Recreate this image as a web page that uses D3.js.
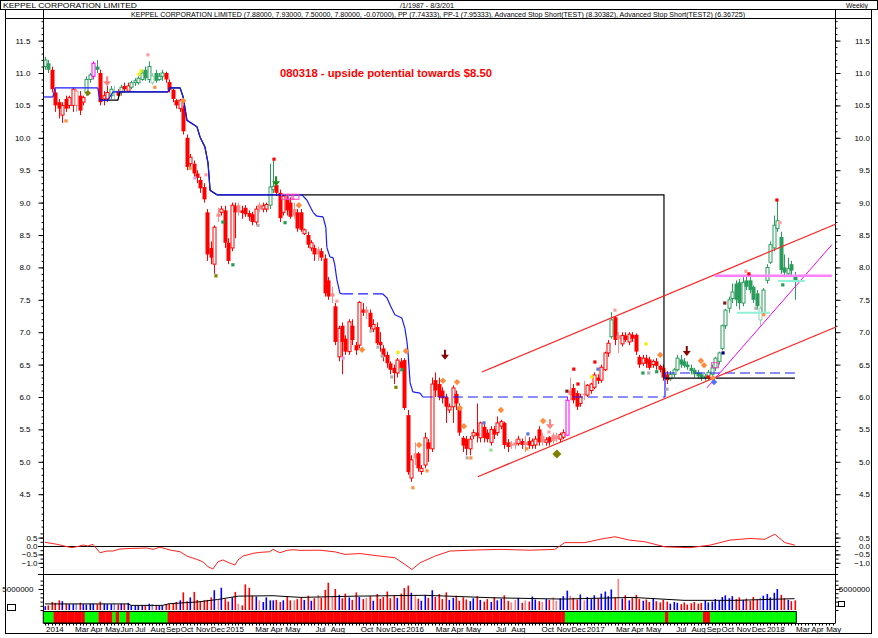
<!DOCTYPE html>
<html><head><meta charset="utf-8">
<script src="https://cdn.jsdelivr.net/npm/d3@7/dist/d3.min.js"></script>
<style>
body{margin:0;background:#fff}
svg{display:block}
text{font-family:"Liberation Sans",Arial,sans-serif;fill:#000}
</style></head>
<body><svg id="c" width="878" height="638"></svg>
<script>
// ---------------- DATA ----------------
const firstWeek = "2014-01-03";
const opens = [11.10,11.15,11.05,10.70,10.55,10.35,10.60,10.50,10.50,10.50,10.65,10.55,10.70,10.90,10.95,11.10,11.00,10.60,10.60,10.65,10.70,10.72,10.70,10.80,10.72,10.78,10.85,10.85,10.90,11.05,10.90,10.85,11.00,10.90,10.95,11.00,10.86,10.74,10.58,10.45,10.45,10.00,9.60,9.60,9.45,9.35,9.24,8.85,8.30,8.05,8.83,8.85,8.88,8.38,8.30,8.95,8.96,8.88,8.92,8.84,8.82,8.70,8.97,8.90,8.90,8.96,9.20,9.27,9.15,8.85,9.05,9.00,8.90,8.85,8.85,8.52,8.50,8.30,8.30,8.28,8.25,8.14,7.80,7.60,7.40,6.62,7.10,6.90,6.70,7.10,6.80,6.80,7.35,7.35,7.30,7.05,7.08,6.85,6.75,6.65,6.52,6.45,6.37,6.55,6.57,5.72,4.75,5.13,5.13,4.85,4.95,5.30,5.20,6.26,6.20,6.10,6.00,5.80,5.85,6.05,5.85,5.37,5.35,5.20,5.40,5.45,5.37,5.54,5.45,5.30,5.50,5.45,5.55,5.60,5.30,5.28,5.30,5.28,5.32,5.30,5.32,5.25,5.26,5.50,5.40,5.30,5.38,5.42,5.40,5.35,5.38,5.41,6.10,6.14,6.06,5.90,6.05,6.03,6.10,6.15,6.30,6.26,6.42,6.68,6.93,7.23,6.95,6.82,6.95,6.85,6.96,6.96,6.62,6.52,6.60,6.58,6.50,6.55,6.48,6.45,6.35,6.28,6.35,6.42,6.58,6.55,6.50,6.45,6.42,6.38,6.35,6.30,6.30,6.35,6.45,6.55,6.75,7.10,7.37,7.52,7.75,7.77,7.45,7.80,7.80,7.70,7.60,7.19,7.30,7.80,8.08,8.30,8.60,8.47,8.00,7.90,8.05,7.88];
const highs = [11.25,11.20,11.10,10.75,10.60,10.55,10.65,10.65,10.78,10.75,10.72,10.65,10.95,11.00,11.18,11.20,11.05,10.72,10.80,10.80,10.80,10.75,10.82,10.85,10.85,10.88,10.92,10.95,11.05,11.10,11.18,11.00,11.05,11.00,11.05,11.02,10.90,10.76,10.60,10.60,10.50,10.05,9.75,9.65,9.50,9.40,9.30,8.90,8.40,8.65,8.92,8.95,8.95,8.45,9.00,9.00,9.00,8.95,8.96,8.88,8.86,8.95,9.00,9.00,9.00,9.60,9.65,9.30,9.20,9.12,9.10,9.08,9.00,8.90,8.90,8.60,8.55,8.42,8.35,8.32,8.30,8.20,7.85,7.70,7.45,7.10,7.15,6.95,7.20,7.20,6.85,7.48,7.45,7.40,7.35,7.20,7.15,7.00,6.80,6.70,6.55,6.50,6.60,6.60,6.60,5.80,5.10,5.30,5.15,4.95,5.45,5.35,6.30,6.38,6.30,6.15,6.05,5.90,6.18,6.10,5.90,5.40,5.40,5.40,5.50,5.90,5.62,5.60,5.50,5.55,5.55,5.70,5.65,5.62,5.35,5.32,5.35,5.40,5.36,5.40,5.38,5.36,5.40,5.55,5.45,5.38,5.40,5.45,5.45,5.45,5.50,6.00,6.30,6.20,6.10,6.05,6.25,6.20,6.22,6.38,6.35,6.50,6.70,6.88,7.31,7.25,7.00,7.00,7.00,7.00,7.00,6.98,6.65,6.65,6.65,6.62,6.58,6.60,6.50,6.50,6.40,6.40,6.45,6.65,6.65,6.60,6.55,6.50,6.45,6.42,6.38,6.36,6.42,6.50,6.62,6.70,7.12,7.36,7.55,7.75,7.80,7.82,7.85,7.88,7.85,7.72,7.65,7.40,7.68,8.05,8.40,8.80,9.04,8.55,8.20,8.15,8.10,7.93];
const lows = [11.05,11.00,10.70,10.40,10.30,10.23,10.40,10.45,10.40,10.40,10.35,10.50,10.65,10.85,10.90,11.00,10.50,10.50,10.55,10.60,10.60,10.60,10.65,10.70,10.70,10.75,10.80,10.82,10.88,10.88,10.85,10.82,10.85,10.88,10.88,10.85,10.70,10.55,10.45,10.40,10.05,9.50,9.55,9.40,9.30,9.15,9.00,8.10,8.05,7.90,8.70,8.80,8.30,8.05,8.25,8.45,8.80,8.75,8.78,8.72,8.65,8.65,8.85,8.85,8.85,8.90,9.15,9.10,8.70,8.80,8.80,8.75,8.75,8.55,8.55,8.50,8.30,8.25,8.10,8.10,8.10,7.55,7.50,7.45,6.80,6.55,6.35,6.65,6.65,6.80,6.65,6.75,7.25,7.20,7.00,7.00,6.80,6.70,6.55,6.45,6.35,6.20,6.30,6.40,5.80,4.80,4.69,4.95,4.85,4.80,4.90,5.00,5.15,6.00,5.95,5.90,5.60,5.75,5.60,5.80,5.40,5.15,5.10,5.10,5.35,5.30,5.30,5.30,5.30,5.25,5.35,5.40,5.50,5.20,5.15,5.20,5.20,5.25,5.20,5.15,5.20,5.20,5.20,5.25,5.25,5.25,5.25,5.28,5.30,5.30,5.35,5.40,5.95,5.90,5.80,5.85,5.95,6.00,6.05,6.12,6.20,6.22,6.40,6.62,6.90,6.80,6.68,6.78,6.85,6.80,6.85,6.65,6.45,6.48,6.45,6.42,6.45,6.42,6.38,6.25,6.20,6.25,6.30,6.40,6.45,6.45,6.42,6.35,6.30,6.28,6.25,6.25,6.25,6.30,6.40,6.50,6.72,7.05,7.30,7.45,7.40,7.35,7.40,7.65,7.60,7.45,7.35,7.10,7.25,7.75,8.05,8.25,8.55,7.90,7.85,7.85,7.85,7.50];
const closes = [11.20,11.05,10.75,10.50,10.45,10.50,10.45,10.62,10.75,10.72,10.42,10.62,10.90,10.97,11.15,11.05,10.55,10.65,10.70,10.75,10.72,10.65,10.78,10.75,10.80,10.85,10.88,10.92,11.00,10.92,11.10,10.95,10.88,10.95,11.00,10.90,10.74,10.60,10.50,10.58,10.10,9.55,9.70,9.45,9.38,9.22,9.05,8.20,8.15,8.62,8.78,8.90,8.38,8.10,8.96,8.85,8.85,8.84,8.82,8.78,8.70,8.90,8.90,8.95,8.97,9.24,9.25,9.15,8.76,9.10,8.88,8.78,8.80,8.60,8.58,8.58,8.35,8.38,8.20,8.20,8.15,7.60,7.55,7.55,6.85,7.06,6.85,6.70,7.16,6.88,6.72,7.46,7.30,7.30,7.08,7.12,6.83,6.80,6.62,6.52,6.42,6.37,6.57,6.45,5.83,4.84,5.03,5.05,4.90,4.90,5.37,5.20,6.20,6.10,6.00,5.98,5.85,5.85,6.14,5.90,5.45,5.25,5.20,5.35,5.45,5.40,5.60,5.37,5.35,5.50,5.42,5.60,5.62,5.26,5.23,5.25,5.25,5.35,5.26,5.26,5.25,5.32,5.35,5.30,5.30,5.34,5.30,5.32,5.35,5.42,5.45,5.95,6.03,5.95,5.85,6.00,6.03,6.18,6.20,6.34,6.25,6.46,6.68,6.83,7.19,6.88,6.90,6.95,6.88,6.97,6.90,6.70,6.50,6.60,6.52,6.45,6.55,6.48,6.42,6.30,6.26,6.35,6.42,6.60,6.50,6.48,6.46,6.40,6.35,6.32,6.30,6.32,6.38,6.45,6.60,6.68,7.10,7.34,7.50,7.62,7.50,7.45,7.77,7.70,7.65,7.50,7.40,7.37,7.65,8.00,8.35,8.65,8.72,7.96,7.92,7.98,7.95,7.80];
// weekly volume, millions of shares
const volumes = [0.9,1.1,1.9,1.7,2.3,2.1,1.5,1.4,1.4,1.5,1.7,1.4,1.3,1.5,1.5,1.4,2.0,1.5,1.4,1.4,1.5,1.3,1.5,1.4,1.7,1.1,1.0,1.0,1.1,1.0,1.5,1.4,1.1,1.0,1.1,1.4,1.5,1.5,1.9,2.3,4.2,2.1,3.0,4.3,2.4,1.9,2.3,2.4,3.0,4.7,2.4,5.3,2.6,2.0,3.0,4.3,1.5,1.1,6.1,5.3,3.4,3.2,2.3,1.9,3.0,2.3,2.3,2.4,1.9,2.3,3.2,2.3,2.3,
2.6,3.1,2.4,3.4,2.2,2.8,3.6,2.9,4.8,6.5,3.2,5.0,3.6,2.8,3.9,3.0,2.4,4.2,3.1,2.6,2.9,3.3,2.2,3.8,2.7,3.1,4.4,2.8,3.5,2.9,3.9,5.2,5.8,4.1,3.3,2.7,2.2,3.6,2.9,4.7,3.1,3.8,2.6,4.2,2.4,2.9,3.4,2.2,3.0,2.5,2.1,2.8,3.3,2.4,2.0,2.6,1.9,3.1,2.3,2.7,3.5,2.2,1.8,2.4,2.9,1.7,2.3,2.0,3.2,2.5,2.1,1.9,2.6,2.4,3.0,2.2,2.8,3.3,4.6,3.4,2.9,2.5,3.7,2.3,3.1,2.6,3.5,2.8,3.9,4.4,3.3,4.9,3.0,7.4,2.7,3.5,2.3,2.9,3.6,2.6,2.2,2.5,1.9,2.7,2.1,1.8,2.4,2.0,1.5,1.9,1.7,1.4,1.8,1.3,1.6,1.9,1.5,1.7,2.2,1.8,2.0,2.6,2.3,3.1,3.5,2.8,3.3,2.6,3.0,2.4,2.7,2.2,3.1,2.5,2.9,3.4,3.8,3.0,4.1,5.0,3.6,2.8,2.4,2.1,2.3];
// volume moving average [week, millions]
const volAvg = [[0,1.45],[24,1.45],[25,1.1],[34,1.1],[36,1.5],[44,1.9],[50,2.5],[56,3.3],[66,3.4],[74,3.0],[90,3.3],[110,3.5],[130,2.9],[150,2.6],[170,3.0],[185,2.3],[200,2.3],[217,2.7]];
// candle colour groups (week index ranges) – green trend; all others red
const greenCandleRuns = [[0,1],[12,15],[19,20],[22,22],[25,34],[65,66],[164,164],[181,217]];
const magentaCandles = [14,151];
// trend strip: [start week, state]
const stripRuns = [[0,"G"],[3,"R"],[12,"G"],[16,"R"],[20,"G"],[21,"R"],[22,"G"],[24,"R"],[25,"G"],[36,"R"],[151,"G"],[180,"R"],[181,"G"],[191,"R"],[193,"G"]];
// Advanced Stop Short (TEST) – [week, price]
const stopTest = [[-0.5,10.63],[2.3,10.63],[2.9,10.77],[15.3,10.77],[15.9,10.58],[18.2,10.58],[19.7,10.71],[35.6,10.71],[36.2,10.77],[39.1,10.77],[40,10.63],[41.1,10.27],[44,10.17],[44.9,10.01],[46.3,9.86],[47.2,9.61],[47.8,9.19],[49.8,9.12],[74.4,9.12],[75.8,9.04],[77.6,8.85],[78.7,8.79],[80.5,8.78],[81.3,8.62],[81.6,8.31],[82.5,8.16],[83.4,8.15],[83.9,8.04],[84.5,7.81],[85.4,7.60],[86.3,7.59],[97.8,7.59],[99,7.53],[99.9,7.42],[101.3,7.27],[103.3,7.22],[104.2,7.06],[104.8,6.85],[105.1,6.69],[105.7,6.22],[106.5,6.08],[108.6,6.06],[109.4,6.0],[179.5,6.0],[179.5,6.37],[217.1,6.37]];
// Advanced Stop Short (TEST2)
const stopTest2 = [[15.9,10.58],[21.1,10.58],[21.7,10.71],[35.6,10.71],[36.2,10.77],[39.1,10.77],[40,10.63],[41.1,10.27],[44,10.17],[44.9,10.01],[46.3,9.86],[47.2,9.61],[47.8,9.19],[49.8,9.12],[179.2,9.12],[179.2,6.29],[217.1,6.29]];
// drawn lines [week, price]
const channelUpper = [[126.5,6.386],[229,8.67]];
const channelLower = [[125.3,4.77],[229,7.08]];
const supportMagenta = [[191.6,6.14],[227.8,8.35]];
const levelMagenta = [[193.9,7.87],[227.8,7.87]];
const levelCyan1 = [[200.3,7.30],[209.9,7.30]];
const levelCyan2 = [[212.2,7.79],[220,7.79]];
// oscillator [week, value]
const osc = [[0,0.22],[3.5,0.1],[6.4,-0.04],[7.8,-0.1],[10.1,0],[11,0.06],[12.4,0],[13.9,0.1],[15.9,-0.4],[17.9,-0.3],[19.7,-0.3],[21.7,-0.18],[25.5,-0.14],[29.5,-0.12],[31.3,-0.2],[33.3,-0.07],[36.2,-0.24],[39.1,-0.34],[41.1,-0.6],[44,-0.8],[45.7,-0.94],[47.2,-1.23],[48.6,-1.37],[50.1,-0.94],[51.5,-0.83],[53.6,-1.03],[55,-1.13],[55.9,-0.83],[57.3,-0.6],[60.2,-0.44],[62.2,-0.38],[65.1,-0.34],[66,-0.2],[68,-0.4],[70.1,-0.26],[71.8,-0.22],[73.8,-0.26],[79.6,-0.25],[84,-0.35],[86.8,-0.5],[91.2,-0.45],[97,-0.6],[101.3,-0.7],[104.2,-1.1],[106.2,-1.4],[108.6,-1.0],[112.9,-0.6],[117.2,-0.3],[123,-0.25],[131.7,-0.2],[140.4,-0.25],[147.6,-0.2],[150.5,0.2],[156.3,0.2],[160.7,0.4],[165,0.55],[169.3,0.35],[173.7,0.25],[179.5,-0.05],[186.7,-0.1],[192.5,0.05],[198.3,0.35],[204.1,0.45],[208.4,0.4],[211.3,0.7],[214.2,0.2],[217.1,0.05]];
// signal markers [week, price, kind]
const markers = [[12.4,10.69,"olive"],[29.8,11.28,"pink"],[27.2,10.98,"yellow"],[27.8,11.03,"yellow"],[31.8,10.78,"orange"],[6.1,10.26,"orange"],[40,10.57,"orangeD"],[46.6,9.43,"pink"],[43.4,9.38,"lav"],[42,9.53,"orange"],[51.5,8.7,"green"],[54.4,8.04,"green"],[49.5,7.87,"olivesq"],[61.7,8.65,"gray"],[66.3,9.67,"red"],[69.5,8.69,"green"],[73.5,8.96,"orangeD"],[86.3,6.6,"lav"],[84.5,7.48,"pink"],[91.8,6.73,"orangeD"],[94.4,7.02,"gray"],[96.4,6.77,"gray"],[97.6,6.63,"gray"],[102.2,6.69,"yellow"],[104.5,6.71,"orangeD"],[103.3,6.42,"green"],[100.4,6.31,"gray"],[101.6,6.15,"olivesq"],[108.3,5.26,"orangeD"],[110.6,4.86,"orange"],[106.5,4.6,"orange"],[115.2,6.25,"orangeD"],[119.3,6.23,"orangeD"],[120.1,5.83,"orangeD"],[121.3,5.55,"orangeD"],[122.2,5.06,"gray"],[123.3,5.06,"orange"],[127.1,5.6,"blue"],[129.1,5.18,"lgreen"],[132,5.8,"orangeD"],[144.2,5.63,"orangeD"],[145.9,5.46,"pink"],[139.8,5.43,"blue"],[139.5,5.2,"orange"],[148.2,5.12,"oliveD"],[151.1,6.09,"dred"],[153.1,6.43,"red"],[154.3,6.2,"red"],[159.2,6.54,"red"],[158.3,6.31,"yellow"],[160.1,6.43,"blue"],[165,7.34,"pink"],[174,6.82,"yellow"],[173.1,6.37,"green"],[174.8,6.37,"gray"],[177.1,6.39,"green"],[178.1,6.65,"orangeD"],[180.1,6.12,"gray"],[189.9,6.56,"orangeD"],[190.8,6.49,"orangeD"],[193.4,6.29,"orangeD"],[193.7,6.23,"blueD"],[192,6.31,"red"],[196.3,6.68,"navy"],[196.8,7.45,"dred"],[202.9,7.94,"pink"],[203.8,7.9,"red"],[205.8,7.37,"gray"],[208.1,7.27,"orange"],[211.9,9.04,"red"],[212.8,8.69,"pink"],[213.6,7.73,"green"],[194,6.49,"magbox"],[69.5,9.09,"magbox"],[71,9.09,"magbox"],[72.5,9.09,"magbox"]];
const arrows = [[115.8,6.62,"#8b0000"],[185.8,6.68,"#8b0000"],[18.0,10.84,"#ff8080"],[146.2,5.55,"#ff8080"],[66.9,9.30,"#1a8a1a"]];
const priceTicks = [4.5,5.0,5.5,6.0,6.5,7.0,7.5,8.0,8.5,9.0,9.5,10.0,10.5,11.0,11.5];
const oscTicks = [0.5,0.0,-0.5,-1.0];
const monthLabels = [["2014-01-01","2014"],["2014-03-01","Mar"],["2014-04-01","Apr"],["2014-05-01","May"],["2014-06-01","Jun"],["2014-07-01","Jul"],["2014-08-01","Aug"],["2014-09-01","Sep"],["2014-10-01","Oct"],["2014-11-01","Nov"],["2014-12-01","Dec"],["2015-01-01","2015"],["2015-03-01","Mar"],["2015-04-01","Apr"],["2015-05-01","May"],["2015-07-01","Jul"],["2015-08-01","Aug"],["2015-10-01","Oct"],["2015-11-01","Nov"],["2015-12-01","Dec"],["2016-01-01","2016"],["2016-03-01","Mar"],["2016-04-01","Apr"],["2016-05-01","May"],["2016-07-01","Jul"],["2016-08-01","Aug"],["2016-10-01","Oct"],["2016-11-01","Nov"],["2016-12-01","Dec"],["2017-01-01","2017"],["2017-03-01","Mar"],["2017-04-01","Apr"],["2017-05-01","May"],["2017-07-01","Jul"],["2017-08-01","Aug"],["2017-09-01","Sep"],["2017-10-01","Oct"],["2017-11-01","Nov"],["2017-12-01","Dec"],["2018-01-01","2018"],["2018-03-01","Mar"],["2018-04-01","Apr"],["2018-05-01","May"]];
const titleLeft = "KEPPEL CORPORATION LIMITED";
const titleRange = "/1/1987 - 8/3/201";
const titleFreq = "Weekly";
const legendText = "KEPPEL CORPORATION LIMITED (7.88000, 7.93000, 7.50000, 7.80000, -0.07000), PP (7.74333), PP-1 (7.95333), Advanced Stop Short(TEST) (8.30382), Advanced Stop Short(TEST2) (6.36725)";
const note = "080318 - upside potential towards $8.50";

// ---------------- SCALES ----------------
const svg = d3.select("#c");
const DAY = 86400000;
const t0 = d3.timeParse("%Y-%m-%d")(firstWeek);
const x = d3.scaleTime().domain([new Date(2014,0,1), new Date(2018,4,23)]).range([44,835]);
const xi = i => x(new Date(t0.getTime() + i*7*DAY));
const y = d3.scaleLinear().domain([6,11.5]).range([397,40.6]);
const yOsc = d3.scaleLinear().domain([0,0.5]).range([546,537.6]);
const yVol = d3.scaleLinear().domain([0,5]).range([610,589]);
const N = closes.length;
const weekW = xi(1)-xi(0);

// ---------------- FRAME ----------------
const g = svg.append("g");
g.append("rect").attr("x",0.5).attr("y",0.5).attr("width",877).attr("height",9).attr("fill","none").attr("stroke","#000");
g.append("rect").attr("x",5.5).attr("y",9.5).attr("width",866).attr("height",624).attr("fill","none").attr("stroke","#000");
g.append("line").attr("x1",5.5).attr("x2",871.5).attr("y1",18.5).attr("y2",18.5).attr("stroke","#000");
g.append("line").attr("x1",43.5).attr("x2",43.5).attr("y1",9.5).attr("y2",623.5).attr("stroke","#000");
g.append("line").attr("x1",835.5).attr("x2",835.5).attr("y1",9.5).attr("y2",623.5).attr("stroke","#000");
g.append("text").attr("x",3).attr("y",7.5).attr("font-size",8).attr("textLength",134).attr("lengthAdjust","spacingAndGlyphs").text(titleLeft);
g.append("text").attr("x",400).attr("y",7.5).attr("font-size",8).attr("textLength",54).attr("lengthAdjust","spacingAndGlyphs").text(titleRange);
g.append("text").attr("x",846).attr("y",7.5).attr("font-size",8).attr("textLength",22).attr("lengthAdjust","spacingAndGlyphs").text(titleFreq);
g.append("text").attr("x",131).attr("y",16.5).attr("font-size",8).attr("textLength",614).attr("lengthAdjust","spacingAndGlyphs").text(legendText);

// panel separator lines
g.append("line").attr("x1",38).attr("x2",838).attr("y1",yOsc(0)+0.5).attr("y2",yOsc(0)+0.5).attr("stroke","#000");
g.append("line").attr("x1",38).attr("x2",838).attr("y1",574.5).attr("y2",574.5).attr("stroke","#000");

// ---------------- AXES ----------------
function styleAxis(sel){ sel.select(".domain").remove(); sel.selectAll("text").attr("font-size",8).attr("font-family","Liberation Sans, Arial").attr("fill","#000"); sel.selectAll("line").attr("stroke","#000"); }
const minorP = d3.range(40,119).map(v=>v/10);
g.append("g").attr("transform","translate(43.5,0)").call(d3.axisLeft(y).tickValues(minorP).tickSize(2).tickFormat("")).call(styleAxis);
g.append("g").attr("transform","translate(43.5,0)").call(d3.axisLeft(y).tickValues(priceTicks).tickSize(5).tickPadding(8).tickFormat(d3.format(".1f"))).call(styleAxis);
g.append("g").attr("transform","translate(835.5,0)").call(d3.axisRight(y).tickValues(minorP).tickSize(2).tickFormat("")).call(styleAxis);
const rp = g.append("g").attr("transform","translate(835.5,0)").call(d3.axisRight(y).tickValues(priceTicks).tickSize(5).tickFormat(d3.format(".1f"))).call(styleAxis);
rp.selectAll("text").attr("x",34.5).attr("text-anchor","end");
const minorO = d3.range(-1.25,0.76,0.25);
g.append("g").attr("transform","translate(43.5,0)").call(d3.axisLeft(yOsc).tickValues(minorO).tickSize(3).tickFormat("")).call(styleAxis);
g.append("g").attr("transform","translate(43.5,0)").call(d3.axisLeft(yOsc).tickValues(oscTicks).tickSize(5).tickPadding(1).tickFormat(d3.format(".1f"))).call(styleAxis);
g.append("g").attr("transform","translate(835.5,0)").call(d3.axisRight(yOsc).tickValues(minorO).tickSize(3).tickFormat("")).call(styleAxis);
const ro = g.append("g").attr("transform","translate(835.5,0)").call(d3.axisRight(yOsc).tickValues(oscTicks).tickSize(5).tickFormat(d3.format(".1f"))).call(styleAxis);
ro.selectAll("text").attr("x",34.5).attr("text-anchor","end");
const volFmt = v => d3.format("d")(v*1e6);
const minorV = d3.range(0,8,1);
g.append("g").attr("transform","translate(43.5,0)").call(d3.axisLeft(yVol).tickValues(minorV).tickSize(3).tickFormat("")).call(styleAxis);
g.append("g").attr("transform","translate(43.5,0)").call(d3.axisLeft(yVol).tickValues([5]).tickSize(5).tickPadding(5).tickFormat(volFmt)).call(styleAxis);
g.append("g").attr("transform","translate(835.5,0)").call(d3.axisRight(yVol).tickValues(minorV).tickSize(3).tickFormat("")).call(styleAxis);
const rv = g.append("g").attr("transform","translate(835.5,0)").call(d3.axisRight(yVol).tickValues([5]).tickSize(5).tickFormat(volFmt)).call(styleAxis);
rv.selectAll("text").attr("x",34.5).attr("text-anchor","end");
g.append("rect").attr("x",7.5).attr("y",604.5).attr("width",8).attr("height",6).attr("fill","#fff").attr("stroke","#000");
g.append("rect").attr("x",838.5).attr("y",601.5).attr("width",6).attr("height",5).attr("fill","#fff").attr("stroke","#000");

// x axis: weekly ticks and month labels
const weeks = d3.range(0,229);
g.append("g").selectAll("line").data(weeks).join("line")
  .attr("x1",d=>Math.round(xi(d))+0.5).attr("x2",d=>Math.round(xi(d))+0.5).attr("y1",623).attr("y2",625.5).attr("stroke","#000");
g.append("line").attr("x1",44).attr("x2",835).attr("y1",623.5).attr("y2",623.5).attr("stroke","#000");
const pd = d3.timeParse("%Y-%m-%d");
g.append("g").selectAll("text").data(monthLabels).join("text")
  .attr("x",d=>x(pd(d[0]))+2).attr("y",632).attr("font-size",8).text(d=>d[1]);

// ---------------- STRIP ----------------
function stripState(i){ let s="G"; for(const r of stripRuns){ if(i>=r[0]) s=r[1]; } return s; }
g.append("g").selectAll("rect").data(d3.range(N)).join("rect")
  .attr("x",i=>xi(i)-weekW/2).attr("width",weekW+0.3).attr("y",612).attr("height",11)
  .attr("fill",i=>stripState(i)==="G"?"#00ff00":"#ff0000");
g.append("rect").attr("x",xi(0)-weekW/2).attr("y",611.5).attr("width",xi(N-1)-xi(0)+weekW).attr("height",11.5).attr("fill","none").attr("stroke","#000");

// ---------------- VOLUME ----------------
function volColor(i){
  const up = closes[i]>=opens[i];
  const prev = i>0?closes[i-1]:opens[i];
  const agree = up ? closes[i]>=prev : closes[i]<prev;
  if(up) return agree?"#0000ff":"#8080ff";
  return agree?"#ff0000":"#ff8080";
}
g.append("g").selectAll("rect").data(d3.range(N)).join("rect")
  .attr("x",i=>Math.round(xi(i))-0.5).attr("width",1.6)
  .attr("y",i=>yVol(volumes[i])).attr("height",i=>yVol(0)-yVol(volumes[i]))
  .attr("fill",volColor);
g.append("path").datum(volAvg).attr("d",d3.line().x(d=>xi(d[0])).y(d=>yVol(d[1])))
  .attr("fill","none").attr("stroke","#000").attr("stroke-width",1);

// ---------------- OSCILLATOR ----------------
g.append("path").datum(osc).attr("d",d3.line().x(d=>xi(d[0])).y(d=>yOsc(d[1])))
  .attr("fill","none").attr("stroke","#ff2020").attr("stroke-width",1);

// ---------------- CANDLES ----------------
const inRuns = (i,runs)=>runs.some(r=>i>=r[0]&&i<=r[1]);
function candleColor(i){
  if(magentaCandles.includes(i)) return "#ff00ff";
  const green = inRuns(i,greenCandleRuns);
  const up = closes[i]>=opens[i];
  const prev = i>0?closes[i-1]:opens[i];
  const agree = up ? closes[i]>=prev : closes[i]<prev;
  if(green) return agree?"#2a9d5c":"#8fd4b0";
  return agree?"#ff0000":"#ff8a8a";
}
const cg = g.append("g");
d3.range(N).forEach(i=>{
  const cx = Math.round(xi(i))+0.5;
  const col = candleColor(i);
  cg.append("line").attr("x1",cx).attr("x2",cx).attr("y1",y(highs[i])).attr("y2",y(lows[i])).attr("stroke",col).attr("stroke-width",1);
  const top = y(Math.max(opens[i],closes[i])), bot = y(Math.min(opens[i],closes[i]));
  const up = closes[i]>=opens[i];
  if(up){
    cg.append("rect").attr("x",cx-1.5).attr("y",top).attr("width",3).attr("height",Math.max(1,bot-top)).attr("fill","#fff").attr("stroke",col).attr("stroke-width",1);
  } else {
    cg.append("rect").attr("x",cx-2).attr("y",top).attr("width",4).attr("height",Math.max(1.5,bot-top)).attr("fill",col);
  }
});

// ---------------- LINES ----------------
const lineP = d3.line().x(d=>xi(d[0])).y(d=>y(d[1]));
g.append("path").datum(stopTest2).attr("d",lineP).attr("fill","none").attr("stroke","#000").attr("stroke-width",1.2);
for(let k=0;k<stopTest.length-1;k++){
  const a=stopTest[k], b=stopTest[k+1];
  const dashed = a[1]===b[1] && a[0]>85;
  g.append("path").datum([a,b]).attr("d",lineP).attr("fill","none").attr("stroke","#1a1aff").attr("stroke-width",1.2)
    .attr("stroke-dasharray",dashed?"10,5":null);
}
[channelUpper,channelLower].forEach(l=>g.append("path").datum(l).attr("d",lineP).attr("fill","none").attr("stroke","#ff2020").attr("stroke-width",1.2));
g.append("path").datum(supportMagenta).attr("d",lineP).attr("fill","none").attr("stroke","#ff00ff").attr("stroke-width",1);
g.append("path").datum(levelMagenta).attr("d",lineP).attr("fill","none").attr("stroke","#ff80ff").attr("stroke-width",2.5);
[levelCyan1,levelCyan2].forEach(l=>g.append("path").datum(l).attr("d",lineP).attr("fill","none").attr("stroke","#90f0d8").attr("stroke-width",2));

// ---------------- MARKERS ----------------
const mcol = {olive:"#808000",oliveD:"#808000",olivesq:"#808000",pink:"#ffa0a0",yellow:"#f0f000",orange:"#ff9040",orangeD:"#ff8c3c",lav:"#d8a0e0",green:"#20a050",gray:"#b0b0b0",red:"#ff0000",dred:"#8b1a1a",blue:"#6070e0",blueD:"#5070ff",lgreen:"#90e090",navy:"#000080"};
const mg = g.append("g");
markers.forEach(m=>{
  const px = xi(m[0]), py = y(m[1]), k=m[2];
  if(k==="magbox"){ mg.append("rect").attr("x",px-3.5).attr("y",py-2.5).attr("width",7).attr("height",5).attr("fill","none").attr("stroke","#ff40c0").attr("stroke-width",1); return; }
  const diamond = /D$/.test(k) || k==="olive";
  const s = k==="oliveD"?4.5:(diamond?3.2:1.6);
  if(diamond){
    mg.append("path").attr("d",`M${px},${py-s}L${px+s},${py}L${px},${py+s}L${px-s},${py}Z`).attr("fill",mcol[k]);
  } else {
    mg.append("rect").attr("x",px-s).attr("y",py-s).attr("width",2*s).attr("height",2*s).attr("fill",mcol[k]);
  }
});
arrows.forEach(a=>{
  const px=xi(a[0]), py=y(a[1]);
  mg.append("path").attr("d",`M${px-1},${py-7}L${px+1},${py-7}L${px+1},${py-2}L${px+4},${py-2}L${px},${py+3}L${px-4},${py-2}L${px-1},${py-2}Z`).attr("fill",a[2]);
});

// ---------------- ANNOTATION ----------------
g.append("text").attr("x",280).attr("y",77).attr("font-size",11.5).attr("font-weight","bold").style("fill","#ff0000")
  .attr("textLength",212).attr("lengthAdjust","spacingAndGlyphs").text(note);
</script></body></html>
